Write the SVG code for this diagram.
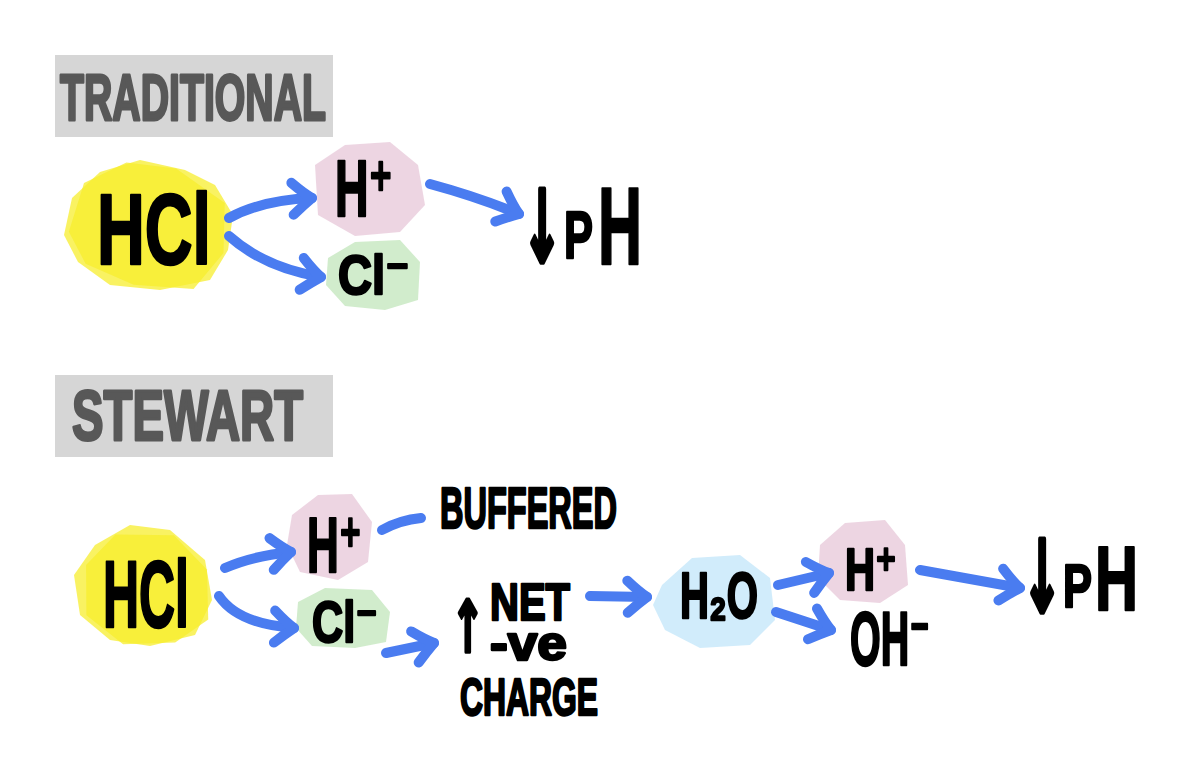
<svg xmlns="http://www.w3.org/2000/svg" width="1200" height="777" viewBox="0 0 1200 777">
<style>
.hdr{fill:#d6d6d6}
.htxt{font-family:"Liberation Sans","DejaVu Sans",sans-serif;font-weight:700;fill:#585858;stroke:#585858;stroke-width:3;stroke-linejoin:round}
.t{font-family:"Liberation Sans","DejaVu Sans",sans-serif;font-weight:700;fill:#000;stroke:#000;stroke-width:2.5;stroke-linejoin:round}
.ar{font-family:"DejaVu Sans",sans-serif;font-weight:700;fill:#000;stroke:#000;stroke-width:4;stroke-linejoin:round}
.y{fill:#f7ee2e;opacity:.75}
.p{fill:#e6c3d6;opacity:.7}
.g{fill:#c2e5bb;opacity:.75}
.b{fill:#c2e5f9;opacity:.75}
.c{fill:none;stroke:#4a7cf0;stroke-width:10;stroke-linecap:round;stroke-linejoin:round}
</style>
<defs>
<marker id="ah" markerUnits="userSpaceOnUse" viewBox="-30 -24 40 48" refX="0" refY="0" markerWidth="40" markerHeight="48" orient="auto" overflow="visible">
<path d="M-20,-16 Q-8,-5 0,0 Q-9,7 -19,16" fill="none" stroke="#4a7cf0" stroke-width="10" stroke-linecap="round" stroke-linejoin="round"/>
</marker>
</defs>
<rect width="1200" height="777" fill="#fff"/>

<g id="hdr-traditional">
<rect class="hdr" x="55" y="55" width="278" height="82"/>
<text class="htxt" x="60" y="120" font-size="64" textLength="266" lengthAdjust="spacingAndGlyphs">TRADITIONAL</text>
</g>

<g id="hdr-stewart">
<rect class="hdr" x="55" y="375" width="278" height="82"/>
<text class="htxt" x="72" y="440" font-size="70" textLength="231" lengthAdjust="spacingAndGlyphs">STEWART</text>
</g>

<g id="t-hcl">
<polygon class="y" points="72,198 100,172 140,160 185,170 215,185 233,215 228,250 210,280 160,290 110,285 78,262 64,235"/>
<polygon class="y" opacity=".4" points="80,190 120,165 170,166 222,195 226,245 200,284 140,286 90,270 70,240" transform="rotate(6 148 225)"/>
<text class="t" x="97" y="264" font-size="100" textLength="114" lengthAdjust="spacingAndGlyphs">HCl</text>
</g>

<g id="t-hplus">
<polygon class="p" points="315,165 345,145 390,142 418,165 425,205 400,232 355,236 318,215"/>
<text class="t" x="335" y="216" font-size="80" textLength="58" lengthAdjust="spacingAndGlyphs">H⁺</text>
</g>

<g id="t-cl">
<polygon class="g" points="328,258 355,242 400,240 420,262 418,300 385,310 345,306 326,285"/>
<text class="t" x="338" y="294" font-size="56" textLength="72" lengthAdjust="spacingAndGlyphs">Cl⁻</text>
</g>

<g id="t-ph">
<text class="ar" transform="translate(522,262) scale(0.6,1.25)" font-size="80">↓</text>
<text class="t" x="564" y="258" font-size="66" textLength="29" lengthAdjust="spacingAndGlyphs">P</text>
<text class="t" x="598" y="264" font-size="110" textLength="44" lengthAdjust="spacingAndGlyphs">H</text>
</g>

<g id="b-hcl">
<polygon class="y" points="95,545 130,525 170,530 205,560 212,600 195,635 150,646 110,640 80,615 74,575"/>
<polygon class="y" opacity=".4" points="88,560 120,532 178,538 208,575 205,625 170,645 118,642 84,610" transform="rotate(-5 145 585)"/>
<text class="t" x="103" y="627" font-size="94" textLength="86" lengthAdjust="spacingAndGlyphs">HCl</text>
</g>

<g id="b-hplus">
<polygon class="p" points="292,515 318,495 352,494 372,522 368,562 338,580 300,572 287,545"/>
<text class="t" x="307" y="572" font-size="78" textLength="55" lengthAdjust="spacingAndGlyphs">H⁺</text>
</g>

<g id="b-cl">
<polygon class="g" points="298,602 325,588 372,590 390,612 386,642 355,648 312,646 296,628"/>
<text class="t" x="312" y="642" font-size="57" textLength="66" lengthAdjust="spacingAndGlyphs">Cl⁻</text>
</g>

<g id="b-buffered">
<text class="t" x="440" y="528" font-size="58" textLength="177" lengthAdjust="spacingAndGlyphs">BUFFERED</text>
</g>

<g id="b-net">
<text class="ar" transform="translate(451,652) scale(0.5,0.9)" font-size="80">↑</text>
<text class="t"><tspan x="490" y="620" font-size="52" textLength="80" lengthAdjust="spacingAndGlyphs">NET</tspan><tspan x="490" y="660" font-size="48" textLength="77" lengthAdjust="spacingAndGlyphs">-ve</tspan><tspan x="460" y="715" font-size="52" textLength="138" lengthAdjust="spacingAndGlyphs">CHARGE</tspan></text>
</g>

<g id="b-h2o">
<polygon class="b" points="662,585 692,558 740,555 770,578 775,620 750,645 700,648 665,630 653,605"/>
<text class="t" x="680" y="618" font-size="64" textLength="78" lengthAdjust="spacingAndGlyphs">H₂O</text>
</g>

<g id="b-hplus2">
<polygon class="p" points="820,545 845,523 885,520 905,545 908,585 880,603 840,600 818,578"/>
<text class="t" x="845" y="590" font-size="60" textLength="52" lengthAdjust="spacingAndGlyphs">H⁺</text>
</g>

<g id="b-oh">
<text class="t" x="850" y="665" font-size="76" textLength="80" lengthAdjust="spacingAndGlyphs">OH⁻</text>
</g>

<g id="b-ph">
<text class="ar" transform="translate(1022,612) scale(0.6,1.25)" font-size="80">↓</text>
<text class="t" x="1063" y="607" font-size="62" textLength="29" lengthAdjust="spacingAndGlyphs">P</text>
<text class="t" x="1095" y="610" font-size="90" textLength="43" lengthAdjust="spacingAndGlyphs">H</text>
</g>

<g id="connectors">
<path class="c" d="M229,218 Q262,200 312,198" marker-end="url(#ah)"/>
<path class="c" d="M229,236 Q265,268 321,277" marker-end="url(#ah)"/>
<path class="c" d="M430,184 Q478,197 519,214" marker-end="url(#ah)"/>
<path class="c" d="M225,568 Q252,556 291,552" marker-end="url(#ah)"/>
<path class="c" d="M219,596 Q238,624 294,628" marker-end="url(#ah)"/>
<path class="c" d="M382,530 Q400,520 421,518"/>
<path class="c" d="M386,653 L434,643" marker-end="url(#ah)"/>
<path class="c" d="M590,596 L647,597" marker-end="url(#ah)"/>
<path class="c" d="M778,585 L829,573" marker-end="url(#ah)"/>
<path class="c" d="M776,612 L831,630" marker-end="url(#ah)"/>
<path class="c" d="M920,570 L1020,588" marker-end="url(#ah)"/>
</g>
</svg>
